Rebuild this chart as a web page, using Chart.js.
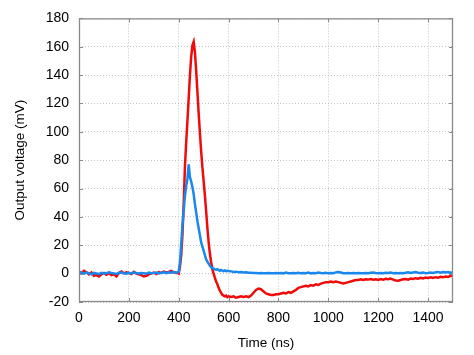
<!DOCTYPE html>
<html><head><meta charset="utf-8">
<script src="https://cdn.jsdelivr.net/npm/chart.js@4"></script>
<style>html,body{margin:0;padding:0;background:#fff}#wrap{width:474px;height:355px}</style>
</head><body><div id="wrap"><canvas id="c" width="474" height="355"></canvas></div>
<script>
const timeNs = [
  0,10,20,30,40,50,60,70,80,90,
  100,110,120,130,140,150,160,170,180,190,
  200,210,220,230,240,250,260,270,280,290,
  300,310,320,330,340,350,360,370,380,390,
  395,400,405,410,415,420,425,430,435,440,
  445,450,455,460,465,470,475,480,485,490,
  495,500,505,510,515,520,525,530,535,540,
  545,550,555,560,565,570,575,580,585,590,
  595,600,
  610,620,630,640,650,660,670,680,690,700,
  710,720,730,740,750,760,770,780,790,800,
  810,820,830,840,850,860,870,880,890,900,
  910,920,930,940,950,960,970,980,990,1000,
  1010,1020,1030,1040,1050,1060,1070,1080,1090,1100,
  1110,1120,1130,1140,1150,1160,1170,1180,1190,1200,
  1210,1220,1230,1240,1250,1260,1270,1280,1290,1300,
  1310,1320,1330,1340,1350,1360,1370,1380,1390,1400,
  1410,1420,1430,1440,1450,1460,1470,1480,1490,1500
];
const redOutputMv = [
  1.5, 0.5, 2.0, 1.0, -0.5, 0.8, -1.5, -1.0, -2.0, -0.5,
  0.5, -0.8, 0.3, -1.0, -0.5, -2.0, 0.5, 1.5, 0.2, 1.0,
  0.5, -0.3, 1.2, 0.0, -0.5, -1.0, -2.0, -1.5, -0.5, 0.2,
  0.8, -0.3, 1.0, 0.5, 1.5, 0.8, 1.2, 2.0, 1.0, 0.5,
  0.5, 0.0, 5, 13, 28, 50, 76, 93, 108, 124,
  140, 153, 161, 163.5, 156, 143, 128, 113, 99, 86,
  75, 65, 55, 44, 32, 22, 14, 8, 3, 0,
  -3, -5.5, -7.5, -10, -12, -13.5, -15, -15.5, -16, -15.5,
  -16.5, -16,
  -16.5, -16, -17, -16.5, -16, -16.5, -16, -16.5, -15.5, -13.5,
  -11.5, -10.5, -11, -12.5, -14, -14.5, -15, -15, -14.5, -14.5,
  -14, -13.5, -14, -13, -13.5, -12.5, -11.5, -10, -9.5, -9,
  -8.5, -9, -8, -8.5, -7.5, -8, -7, -6.5, -6, -6,
  -5.5, -6, -5.5, -6, -6.5, -7, -6.5, -6, -5.5, -5,
  -4.5, -4.5, -4, -4.5, -4, -4.2, -3.8, -4.3, -4, -4.5,
  -3.8, -4.2, -3.6, -4, -3.5, -4.2, -4.8, -5, -4.5, -4,
  -3.8, -4.2, -3.5, -3.8, -3.2, -3.6, -3, -3.4, -2.8, -3,
  -2.6, -3.1, -2.5, -2.8, -2.2, -2.6, -2, -2.3, -1.6, -1.5
];
const blueOutputMv = [
  0.5, 1.0, 0.0, 0.8, 0.3, -0.5, 0.5, 0.2, -0.3, 0.6,
  0.0, 0.4, 1.0, 0.5, 0.2, -0.2, 0.5, 0.8, 0.3, 0.0,
  0.6, 0.2, 0.9, 0.4, 0.1, 0.5, 0.3, 0.0, 0.7, 0.3,
  0.5, 0.8, 0.2, 0.6, 0.9, 0.4, 1.0, 0.6, 1.2, 0.8,
  0.8, 1.5, 8, 21, 34, 45, 55, 62, 67, 77,
  68, 65, 61, 56, 49, 43, 37, 32, 27, 22,
  19, 16, 13, 10, 8.5, 7, 5.5, 4.5, 4, 3.5,
  3, 2.8, 3.2, 2.5, 2.0, 2.6, 2.2, 1.8, 2.3, 1.7,
  2.0, 1.8,
  1.6, 1.2, 1.4, 1.0, 1.1, 0.8, 0.9, 0.6, 0.7, 0.5,
  0.4, 0.2, 0.5, 0.3, 0.2, 0.4, 0.3, 0.2, 0.5, 0.3,
  0.4, 0.2, 0.8, 0.3, 0.2, 0.5, 0.3, 0.6, 0.2, 0.4,
  0.3, 0.7, 0.2, 0.5, 0.3, 0.8, 0.4, 0.3, 0.6, 0.2,
  0.4, 0.3, 0.9, 1.2, 0.8, 0.3, 0.2, 0.4, 0.3, 0.5,
  0.2, 0.4, 0.3, 0.2, 0.5, 0.3, 0.6, 0.8, 0.4, 0.2,
  0.5, 0.3, 0.6, 0.4, 0.7, 0.3, 0.5, 0.2, 0.4, 0.3,
  0.6, 1.0, 0.5, 0.8, 1.1, 0.6, 0.4, 0.7, 0.3, 0.5,
  0.8, 0.4, 1.0, 1.2, 0.6, 1.1, 0.9, 1.2, 0.7, 1.0
];
const xTickValues = [0, 200, 400, 600, 800, 1000, 1200, 1400];
const yTickValues = [-20, 0, 20, 40, 60, 80, 100, 120, 140, 160, 180];
const xTitle = 'Time (ns)';
const yTitle = 'Output voltage (mV)';

const toPoints = (vals) => vals.map((v, i) => ({ x: timeNs[i], y: v }));

const framePlugin = {
  id: 'frame',
  afterDraw(chart) {
    const { ctx, chartArea: a, scales } = chart;
    ctx.save();
    ctx.strokeStyle = '#8a8a8a';
    ctx.lineWidth = 1.3;
    ctx.strokeRect(a.left + 0.5, a.top + 0.5, a.right - a.left - 1, a.bottom - a.top - 1);
    ctx.lineWidth = 1;
    ctx.beginPath();
    xTickValues.forEach(v => {
      const px = Math.round(scales.x.getPixelForValue(v)) + 0.5;
      ctx.moveTo(px, a.bottom); ctx.lineTo(px, a.bottom - 4);
      ctx.moveTo(px, a.top); ctx.lineTo(px, a.top + 4);
    });
    yTickValues.forEach(v => {
      const py = Math.round(scales.y.getPixelForValue(v)) + 0.5;
      ctx.moveTo(a.left, py); ctx.lineTo(a.left + 4, py);
      ctx.moveTo(a.right, py); ctx.lineTo(a.right - 4, py);
    });
    ctx.stroke();
    ctx.restore();
  }
};

Chart.defaults.font.family = '"Liberation Sans", Arial, sans-serif';
Chart.defaults.color = '#000';

new Chart(document.getElementById('c'), {
  type: 'line',
  data: {
    datasets: [
      { data: toPoints(blueOutputMv), borderColor: 'rgb(25,135,235)', borderWidth: 2.5, pointRadius: 0, tension: 0, fill: false },
      { data: toPoints(redOutputMv), borderColor: 'rgb(240,10,10)', borderWidth: 2.5, pointRadius: 0, tension: 0, fill: false }
    ]
  },
  options: {
    responsive: false,
    animation: false,
    devicePixelRatio: 1,
    layout: { padding: { left: 0, right: 21, top: 16, bottom: 0 } },
    plugins: { legend: { display: false }, tooltip: { enabled: false } },
    scales: {
      x: {
        type: 'linear', min: 0, max: 1500,
        afterBuildTicks: s => { s.ticks = xTickValues.map(v => ({ value: v })); },
        afterFit: s => { s.height = 53; },
        ticks: { font: { size: 14 }, padding: 8, maxRotation: 0, autoSkip: false, callback: v => String(v) },
        grid: { color: '#c4c4c4', lineWidth: 1, drawTicks: false },
        border: { display: false, dash: [1, 2] },
        title: { display: true, text: xTitle, font: { size: 13.5 }, padding: { top: 0, bottom: 4 } }
      },
      y: {
        type: 'linear', min: -20, max: 180,
        afterBuildTicks: s => { s.ticks = yTickValues.map(v => ({ value: v })); },
        afterFit: s => { s.width = 79; },
        ticks: { font: { size: 14 }, padding: 10, autoSkip: false, callback: v => String(v) },
        grid: { color: '#c4c4c4', lineWidth: 1, drawTicks: false },
        border: { display: false, dash: [1, 2] },
        title: { display: true, text: yTitle, font: { size: 13.5 }, padding: { top: 12, bottom: 0 } }
      }
    }
  },
  plugins: [framePlugin]
});
</script>
</body></html>
